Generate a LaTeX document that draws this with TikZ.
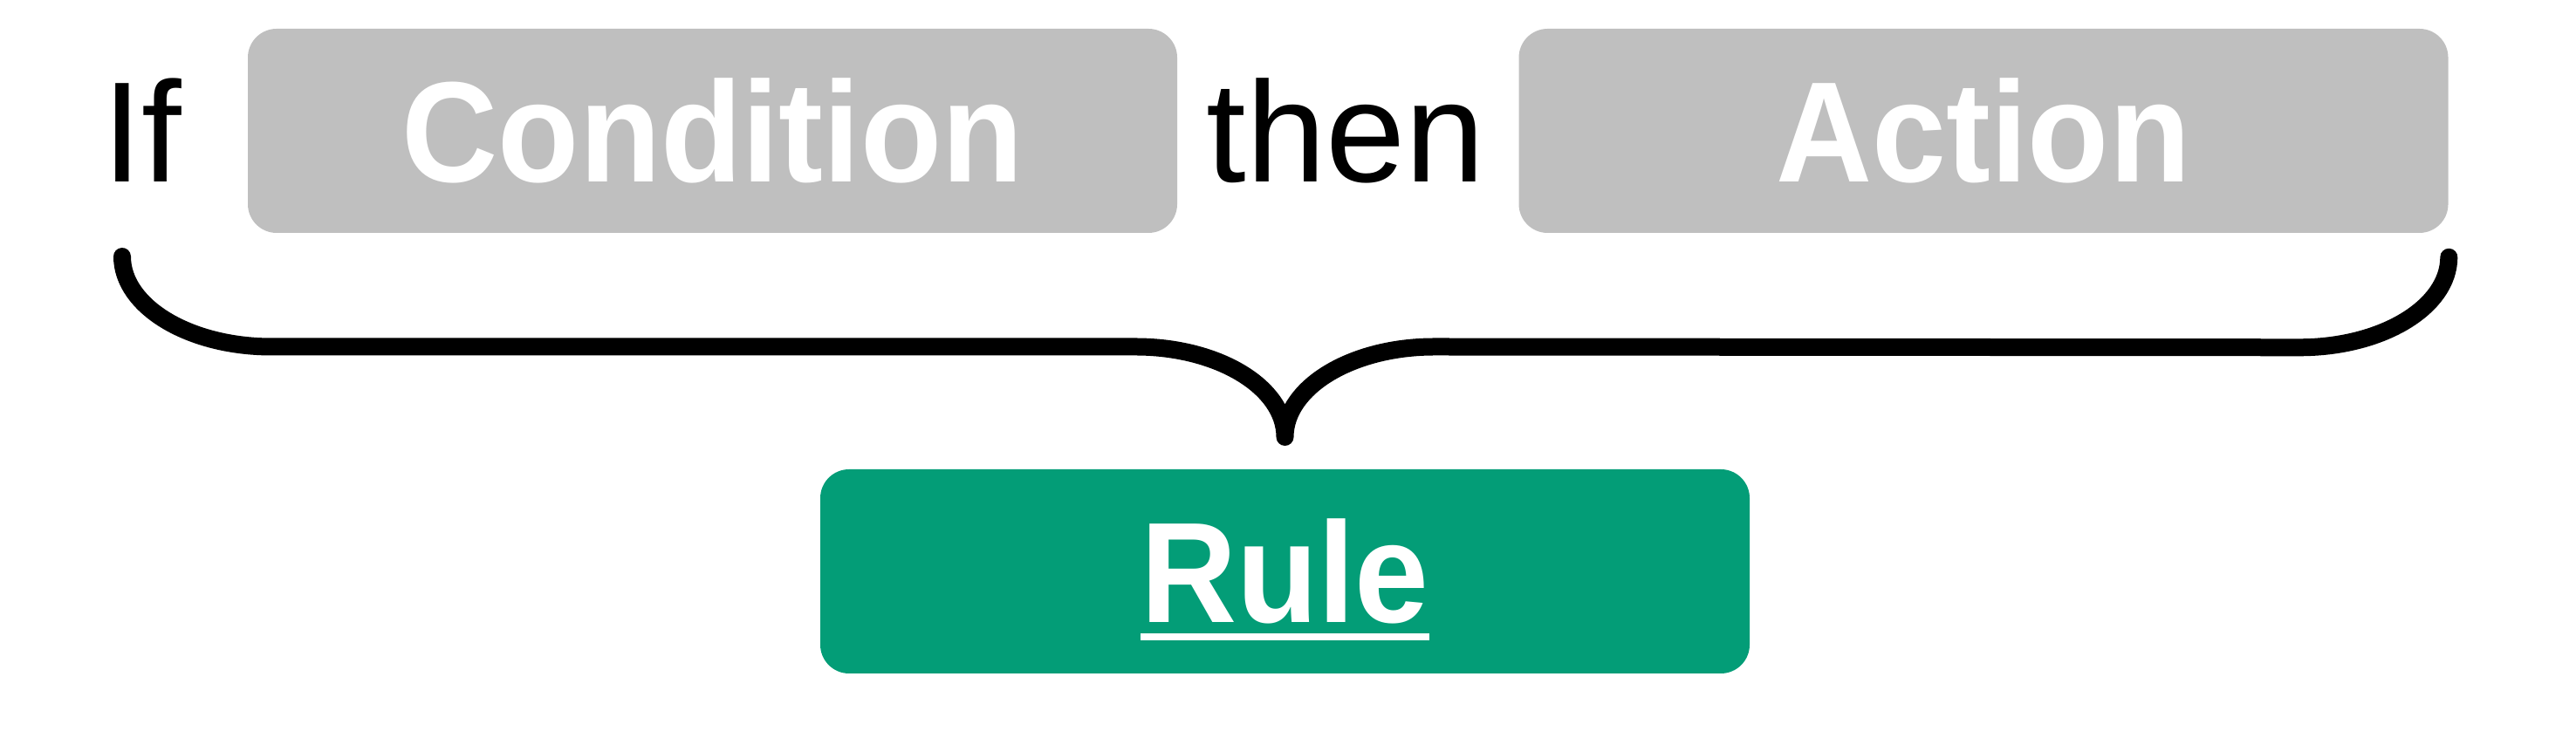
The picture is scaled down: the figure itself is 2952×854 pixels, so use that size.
\documentclass[tikz,border=0pt]{standalone}
\usepackage{fontspec}
\setmainfont{Liberation Sans}[BoldFeatures={FakeStretch=0.93}]
\usetikzlibrary{positioning, calc}
\definecolor{slotgray}{RGB}{191,191,191}
\definecolor{rulegreen}{RGB}{3,157,119}
\newcommand{\wideul}[1]{\setbox0\hbox{#1}\rlap{\vrule width\wd0 height -3pt depth 5pt}\box0}
\tikzstyle{word} = [inner sep=0pt, text height=29.4pt, text depth=0pt, font=\fontsize{41}{49}\selectfont]
\tikzstyle{slot} = [word, rectangle, rounded corners=8.25pt, minimum width=266.25pt, minimum height=58.5pt, fill=slotgray, text=white, font=\fontsize{41}{49}\selectfont\bfseries]
\tikzstyle{rulebox} = [slot, fill=rulegreen]
\tikzstyle{brace} = [line width=5pt, line cap=round, line join=round]

\begin{document}
\begin{tikzpicture}[x=0.25pt, y=0.25pt]
\useasboundingbox (0,0) rectangle (2952,854);
\node (condition) [slot] at (816.5,704) {Condition};
\node (if) [word, left=18.5pt of condition] {If};
\node (then) [word, right=8pt of condition] {then};
\node (action) [slot] at (2273,704) {Action};
\node (rule) [rulebox] at (1472.5,199) {\wideul{Rule}};

\coordinate (braceL) at (140,560);
\coordinate (braceR) at ([yshift=-6.75pt]action.south east);
\coordinate (braceM) at (1472.5,353);

\draw [brace] (braceL) arc[start angle=180, end angle=270, x radius=42.75pt, y radius=25.875pt]
  -- ($(braceM)+(-171,103.5)$) arc[start angle=90, end angle=0, x radius=42.75pt, y radius=25.875pt]
  arc[start angle=180, end angle=90, x radius=42.75pt, y radius=25.875pt]
  -- ($(braceR)+(-171,-103.5)$) arc[start angle=270, end angle=360, x radius=42.75pt, y radius=25.875pt];
\end{tikzpicture}
\end{document}
